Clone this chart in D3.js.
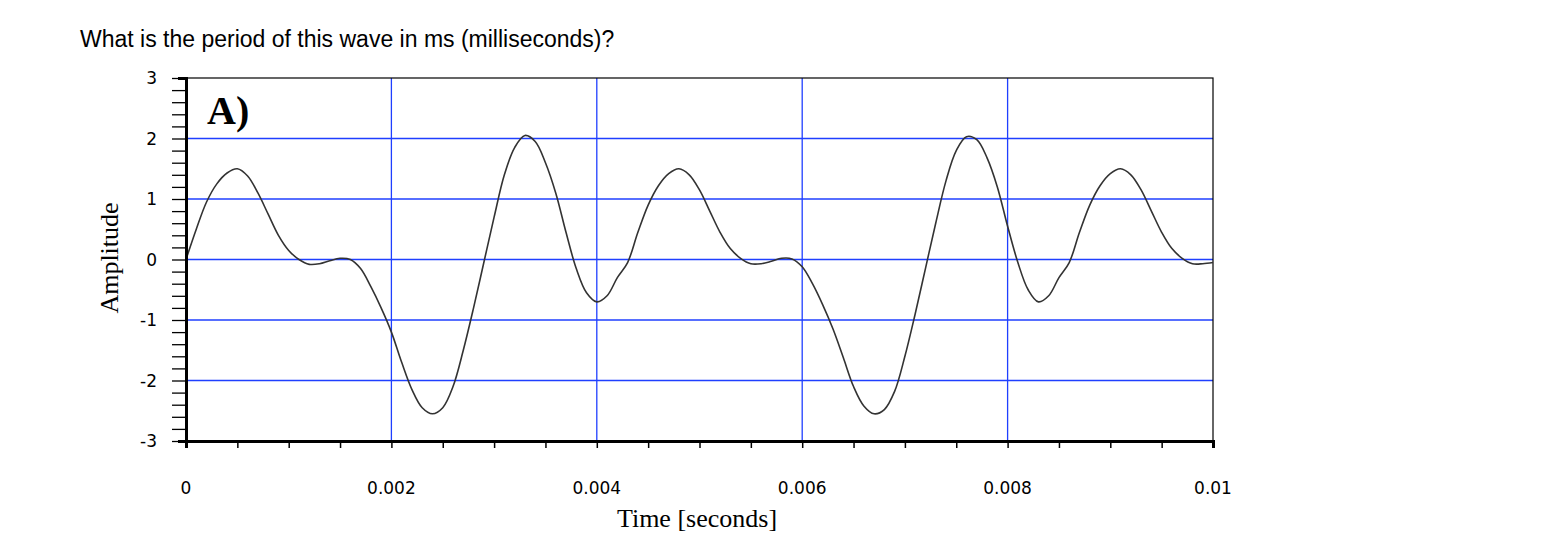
<!DOCTYPE html>
<html><head><meta charset="utf-8">
<script src="https://cdn.jsdelivr.net/npm/d3@7"></script>
<style>body{margin:0;background:#fff}</style>
</head><body>
<svg id="chart" width="1564" height="560"></svg>
<script>
// time in ms, amplitude
const times = d3.range(0, 101).map(i => i / 10);
const amplitude = [
  0, 0.5, 0.95, 1.25, 1.43, 1.5, 1.38, 1.1, 0.75, 0.4, 0.15, 0.0, -0.08, -0.07, -0.02, 0.02, 0.0, -0.15, -0.45, -0.8,
  -1.2, -1.7, -2.15, -2.45, -2.55, -2.45, -2.1, -1.5, -0.8, -0.05, 0.7, 1.4, 1.85, 2.05, 1.95, 1.6, 1.1, 0.45, -0.15, -0.55,
  -0.7, -0.6, -0.3,
  -0.05, 0.45, 0.9, 1.22, 1.42, 1.5, 1.4, 1.15, 0.8, 0.45, 0.18, 0.02, -0.07, -0.07, -0.03, 0.02, 0.01, -0.12, -0.4, -0.75,
  -1.15, -1.62, -2.1, -2.42, -2.55, -2.48, -2.18, -1.6, -0.9, -0.15, 0.6, 1.3, 1.8, 2.03, 1.98, 1.68, 1.2, 0.55, -0.05, -0.5,
  -0.7, -0.6, -0.3,
  -0.05, 0.45, 0.9, 1.22, 1.42, 1.5, 1.4, 1.15, 0.8, 0.45, 0.18, 0.02, -0.07, -0.07, -0.05
];
const xTicks = [0, 0.002, 0.004, 0.006, 0.008, 0.01];
const yTicks = [-3, -2, -1, 0, 1, 2, 3];

const svg = d3.select("#chart");
const L = 186, R = 1213, T = 78, B = 441;
const x = d3.scaleLinear().domain([0, 0.01]).range([L, R]);
const y = d3.scaleLinear().domain([-3, 3]).range([B, T]);

svg.append("text").attr("x", 80).attr("y", 47).attr("font-family", "Liberation Sans, Arial")
  .attr("font-size", 23).text("What is the period of this wave in ms (milliseconds)?");

// grid
svg.append("g").selectAll("line").data(xTicks.slice(1, -1)).enter().append("line")
  .attr("x1", d => x(d)).attr("x2", d => x(d)).attr("y1", T).attr("y2", B)
  .attr("stroke", "#1f3fff").attr("stroke-width", 1.3);
svg.append("g").selectAll("line").data(yTicks.slice(1, -1)).enter().append("line")
  .attr("x1", L).attr("x2", R).attr("y1", d => y(d)).attr("y2", d => y(d))
  .attr("stroke", "#1f3fff").attr("stroke-width", 1.3);

svg.append("rect").attr("x", L).attr("y", T).attr("width", R - L).attr("height", B - T)
  .attr("fill", "none").attr("stroke", "#000").attr("stroke-width", 1.2);

// wave
const line = d3.line().x((d, i) => x(times[i] / 1000)).y(d => y(d)).curve(d3.curveCatmullRom);
svg.append("path").datum(amplitude).attr("d", line).attr("fill", "none")
  .attr("stroke", "#333").attr("stroke-width", 1.6);

// axes
const xAxis = svg.append("g").attr("transform", `translate(0,${B})`)
  .call(d3.axisBottom(x).tickValues(d3.range(0, 0.01001, 0.0005)).tickSize(7).tickFormat(""));
xAxis.selectAll(".tick line").attr("stroke-width", 1.5);
xAxis.select(".domain").attr("stroke-width", 3);
svg.append("g").selectAll("text").data(xTicks).enter().append("text")
  .attr("x", d => x(d)).attr("y", B + 53).attr("text-anchor", "middle")
  .attr("font-family", "DejaVu Sans").attr("font-size", 17).text(d => d);

const yAxis = svg.append("g").attr("transform", `translate(${L},0)`)
  .call(d3.axisLeft(y).tickValues(d3.range(-3, 3.001, 0.2)).tickSize(8).tickFormat(""));
yAxis.select(".domain").attr("stroke-width", 3);
yAxis.selectAll(".tick line").attr("stroke-width", 1.3).attr("x1", -14).attr("x2", 0);
svg.append("g").selectAll("text").data(yTicks).enter().append("text")
  .attr("x", L - 29).attr("y", d => y(d) + 6).attr("text-anchor", "end")
  .attr("font-family", "DejaVu Sans").attr("font-size", 17).text(d => d);

svg.append("text").attr("x", 207).attr("y", 124).attr("font-family", "Liberation Serif")
  .attr("font-weight", "bold").attr("font-size", 40).text("A)");
svg.append("text").attr("x", 697).attr("y", 527).attr("text-anchor", "middle")
  .attr("font-family", "Liberation Serif").attr("font-size", 26).text("Time [seconds]");
svg.append("text").attr("transform", "translate(118,258) rotate(-90)").attr("text-anchor", "middle")
  .attr("font-family", "Liberation Serif").attr("font-size", 26).text("Amplitude");
</script>
</body></html>
